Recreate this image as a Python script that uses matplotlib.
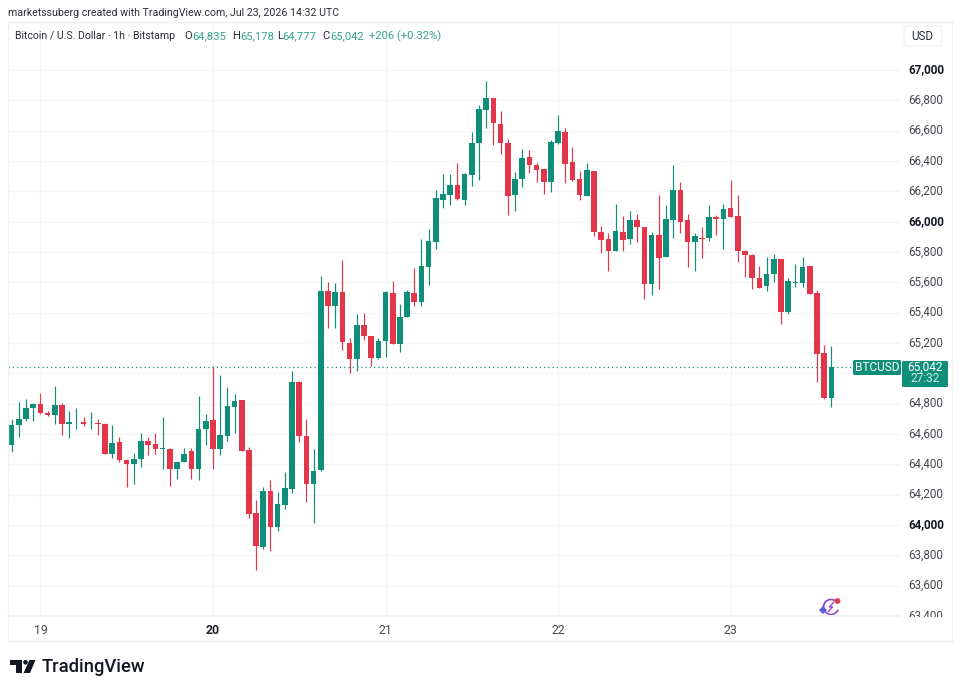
import numpy as np
import matplotlib
matplotlib.use("Agg")
import matplotlib.pyplot as plt
from matplotlib.patches import Arc, FancyBboxPatch, Polygon, Rectangle, Circle
from matplotlib.transforms import ScaledTranslation

plt.rcParams['font.family'] = ['Roboto', 'DejaVu Sans']

# 1h candles, the first one is 20:00 on the 18th
opens = [64526, 64658, 64698, 64768, 64797, 64740, 64727, 64790, 64663, 64676,
         64678, 64669, 64674, 64667, 64469, 64544, 64429, 64403, 64438, 64555,
         64535, 64502, 64504, 64370, 64414, 64489, 64370, 64632, 64689, 64501,
         64585, 64781, 64821, 64495, 64079, 63852, 64226, 63986, 64131, 64239,
         64942, 64587, 64270, 64363, 65545, 65442, 65534, 65197, 65094, 65320,
         65248, 65098, 65210, 65527, 65195, 65369, 65527, 65472, 65704, 65869,
         66140, 66179, 66245, 66146, 66307, 66516, 66739, 66813, 66646, 66516,
         66173, 66281, 66428, 66371, 66344, 66261, 66518, 66589, 66395, 66278,
         66168, 66333, 65935, 65886, 65805, 65930, 65885, 66008, 65968, 65587,
         65909, 65766, 66012, 66211, 66010, 65867, 65893, 65889, 66032, 66019,
         66087, 66037, 65808, 65781, 65629, 65576, 65654, 65753, 65407, 65596,
         65598, 65708, 65528, 65136, 64835]
highs = [64698, 64808, 64830, 64804, 64870, 64749, 64918, 64804, 64753, 64768,
         64711, 64742, 64698, 64669, 64656, 64583, 64434, 64473, 64605, 64577,
         64605, 64711, 64506, 64416, 64506, 64506, 64852, 64729, 65046, 64986,
         64909, 64862, 64825, 64517, 64164, 64248, 64297, 64215, 64347, 65014,
         64946, 64700, 64499, 65644, 65602, 65596, 65750, 65230, 65393, 65398,
         65248, 65230, 65545, 65611, 65457, 65552, 65697, 65886, 65952, 66206,
         66311, 66311, 66384, 66318, 66593, 66767, 66926, 66813, 66730, 66543,
         66329, 66481, 66470, 66384, 66344, 66538, 66701, 66615, 66494, 66333,
         66384, 66333, 65974, 65926, 66115, 66040, 66072, 66048, 65968, 65933,
         66178, 66107, 66374, 66263, 66052, 65922, 65962, 66107, 66041, 66114,
         66272, 66178, 65812, 65786, 65706, 65764, 65790, 65753, 65629, 65724,
         65764, 65708, 65550, 65187, 65178]
lows = [64478, 64579, 64683, 64687, 64733, 64720, 64667, 64590, 64575, 64636,
        64654, 64636, 64594, 64465, 64440, 64414, 64247, 64271, 64385, 64462,
        64469, 64372, 64260, 64306, 64412, 64306, 64299, 64528, 64372, 64462,
        64552, 64605, 64488, 64043, 63706, 63843, 63830, 63960, 64103, 64208,
        64545, 64153, 64015, 64358, 65301, 65296, 65155, 64999, 65014, 65221,
        65050, 65094, 65107, 65195, 65138, 65369, 65442, 65446, 65585, 65820,
        66089, 66111, 66146, 66111, 66234, 66274, 66615, 66503, 66448, 66045,
        66071, 66230, 66322, 66261, 66184, 66195, 66510, 66252, 66265, 66146,
        66168, 65904, 65794, 65673, 65805, 65809, 65854, 65865, 65493, 65519,
        65554, 65766, 65889, 65922, 65704, 65675, 65759, 65871, 65911, 65821,
        66032, 65733, 65636, 65554, 65565, 65541, 65603, 65325, 65389, 65570,
        65568, 65524, 64944, 64832, 64777]
closes = [64660, 64700, 64773, 64797, 64738, 64727, 64790, 64665, 64678, 64680,
          64663, 64674, 64665, 64469, 64539, 64429, 64403, 64436, 64555, 64524,
          64498, 64506, 64370, 64416, 64465, 64368, 64634, 64683, 64504, 64594,
          64785, 64818, 64490, 64072, 63858, 64226, 63986, 64136, 64244, 64942,
          64585, 64270, 64354, 65545, 65442, 65534, 65208, 65094, 65318, 65243,
          65100, 65215, 65534, 65195, 65371, 65534, 65472, 65708, 65875, 66155,
          66181, 66245, 66151, 66311, 66516, 66741, 66813, 66650, 66516, 66168,
          66283, 66421, 66371, 66340, 66261, 66523, 66595, 66380, 66274, 66173,
          66338, 65935, 65882, 65805, 65939, 65882, 66008, 65966, 65587, 65915,
          65761, 66015, 66211, 66001, 65867, 65907, 65887, 66030, 66017, 66085,
          66034, 65805, 65777, 65627, 65565, 65656, 65753, 65407, 65607, 65603,
          65702, 65526, 65129, 64835, 65042]

price_ticks = [63400, 63600, 63800, 64000, 64200, 64400, 64600, 64800, 65000,
               65200, 65400, 65600, 65800, 66000, 66200, 66400, 66600, 66800, 67000]
price_labels = [f"{p:,}" for p in price_ticks]
price_labels[price_ticks.index(65000)] = ""  # hidden behind the price box
bold_prices = [64000, 66000, 67000]
day_ticks = [0, 24, 48, 72, 96]
day_labels = ["19", "20", "21", "22", "23"]
last_price = 65042

GREEN = "#0f8f79"
RED = "#e4364a"
GRID = "#f4f5f7"
LINE = "#f0f1f3"
W, H = 960, 692

fig = plt.figure(figsize=(W / 100, H / 100), dpi=100, facecolor="white")

# main pane, 8..900 px wide and 23..617 px down
ax = fig.add_axes([8 / W, 1 - 617 / H, 892 / W, 594 / H])
hours = np.arange(len(closes)) - 4
opens, highs, lows, closes = map(np.array, (opens, highs, lows, closes))
up = closes >= opens
colors = np.where(up, GREEN, RED)

ax.vlines(hours, lows, highs, colors=colors, linewidth=0.85, zorder=3)
ax.bar(hours, np.abs(closes - opens), bottom=np.minimum(opens, closes), width=0.78,
       color=colors, linewidth=0, zorder=4)
ax.axhline(last_price, color=GREEN, linewidth=0.9, linestyle=(0, (1, 2.4)), zorder=2)

ax.set_xlim(-4.506, 119.55)
ax.set_ylim(63393, 67310)
ax.set_xticks(day_ticks)
ax.set_xticklabels(day_labels, fontsize=8.8, color="#45494f")
ax.get_xticklabels()[1].set_color("#1c2027")
ax.get_xticklabels()[1].set_fontweight("bold")
ax.set_yticks(price_ticks)
ax.set_yticklabels(price_labels, fontsize=8.4, color="#43474e")
ax.yaxis.tick_right()
ax.tick_params(axis="both", length=0)
ax.tick_params(axis="y", pad=6)
ax.tick_params(axis="x", pad=5.4)
# price labels sit a little above their grid lines
nudge = ScaledTranslation(0, 1.5 / 100, fig.dpi_scale_trans)
for tick_value, lab in zip(price_ticks, ax.get_yticklabels()):
    lab.set_transform(lab.get_transform() + nudge)
    if tick_value in bold_prices:
        lab.set_fontweight("bold")
        lab.set_color("#131722")
ax.grid(True, color=GRID, linewidth=0.9, zorder=0)
ax.set_axisbelow(True)
for s in ax.spines.values():
    s.set_visible(False)

# frame, labels and logo in pixel coordinates
ov = fig.add_axes([0, 0, 1, 1], zorder=5)
ov.set_xlim(0, W)
ov.set_ylim(H, 0)
ov.axis("off")
ov.patch.set_alpha(0)

ov.add_patch(Rectangle((902, 617), 48, 22, facecolor="white", edgecolor="none"))
ov.add_patch(Rectangle((8, 22), 944, 619, facecolor="none", edgecolor=LINE, linewidth=1))
ov.plot([8, 900], [615, 615], color=LINE, linewidth=0.9)

ov.text(8, 13, "marketssuberg created with TradingView.com, Jul 23, 2026 14:32 UTC",
        fontsize=7.7, color="#2a2e35", va="center")
ov.text(15, 36, "Bitcoin / U.S. Dollar · 1h · Bitstamp", fontsize=7.6, color="#2a2e35", va="center")
legend_parts = [(184, "O", "#2a2e35"), (192, "64,835", "#35a38e"), (232, "H", "#2a2e35"),
                (240, "65,178", "#35a38e"), (277, "L", "#2a2e35"), (282, "64,777", "#35a38e"),
                (322, "C", "#2a2e35"), (330, "65,042", "#35a38e"),
                (369, "+206 (+0.32%)", "#35a38e")]
for x, txt, col in legend_parts:
    ov.text(x, 36, txt, fontsize=8.1, color=col, va="center")

ov.add_patch(FancyBboxPatch((904, 26), 38, 20, boxstyle="round,pad=0,rounding_size=4",
                            facecolor="white", edgecolor="#f0f1f3", linewidth=0.9))
ov.text(922, 36.5, "USD", fontsize=8.4, color="#2a2e35", ha="center", va="center")

# last price tags
ov.add_patch(FancyBboxPatch((853, 360), 48, 15, boxstyle="round,pad=0,rounding_size=1.5",
                            facecolor=GREEN, edgecolor="none"))
ov.text(877, 367.6, "BTCUSD", fontsize=8.6, color="white", ha="center", va="center")
ov.add_patch(FancyBboxPatch((902, 361), 46, 26, boxstyle="round,pad=0,rounding_size=1.5",
                            facecolor=GREEN, edgecolor="none"))
ov.text(925, 367.5, "65,042", fontsize=8.6, color="white", ha="center", va="center")
ov.text(925, 379, "27:32", fontsize=8.6, color="#c8ebe3", ha="center", va="center")

# replay icon
ov.add_patch(Arc((831, 607), 15, 15, theta1=20, theta2=330, color="#8a3fd6", linewidth=1.2))
ov.plot([833.5, 829.5, 832.5, 828.5], [602.5, 607, 607, 611.5], color="#a63fc8", linewidth=1)
ov.plot([822.5], [610], marker="D", markersize=4, color="#5b5be0", markeredgewidth=0)
ov.add_patch(Circle((837.5, 601), 2.2, color="#e0434f"))

# TradingView logo
ov.add_patch(Polygon([(10, 660), (21.5, 660), (21.5, 673), (15.5, 673), (15.5, 665), (10, 665)],
                     color="#131722", linewidth=0))
ov.add_patch(Circle((25.5, 662.3), 2.3, color="#131722", linewidth=0))
ov.add_patch(Polygon([(29.5, 660), (35.5, 660), (30, 673), (23.5, 673)], color="#131722", linewidth=0))
ov.text(41.5, 667, "TradingView", fontsize=13.2, color="#131722", fontweight="medium", va="center")

fig.savefig("out.png", dpi=100)
